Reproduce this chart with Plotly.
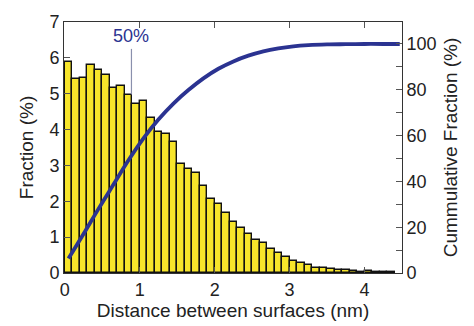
import plotly.graph_objects as go

# Histogram bins (nm) and fractions (%)
bin_centers = [round(0.05 + 0.1 * i, 2) for i in range(44)]
fraction = [5.88, 5.42, 5.45, 5.79, 5.65, 5.52, 5.17, 5.21, 4.96, 4.70,
            4.81, 4.33, 3.94, 3.89, 3.66, 3.04, 2.91, 2.78, 2.44, 2.05,
            1.93, 1.68, 1.41, 1.26, 1.09, 0.92, 0.84, 0.67, 0.56, 0.45,
            0.34, 0.29, 0.22, 0.15, 0.15, 0.10, 0.075, 0.075, 0.05, 0.04,
            0.05, 0.03, 0.02, 0.02]

# Cumulative fraction curve (%)
cum_x = [0.05, 0.25, 0.45, 0.65, 0.85, 1.05, 1.25, 1.45, 1.65, 1.85, 2.05,
         2.25, 2.45, 2.65, 2.85, 3.05, 3.25, 3.5, 3.75, 4.0, 4.25, 4.47]
cum_y = [6.3, 17.0, 28.0, 38.6, 49.2, 58.8, 67.0, 74.0, 79.9, 85.0, 89.2,
         92.4, 94.9, 96.8, 98.1, 99.0, 99.5, 99.8, 99.9, 100, 100, 100]

marker_x = 0.89
marker_label = "50%"

FONT = "Liberation Sans, Arial, sans-serif"
NAVY = "#2b3391"

fig = go.Figure()
fig.add_trace(go.Bar(
    x=bin_centers, y=fraction, width=0.1,
    marker=dict(color="#f7e52b", line=dict(color="#111", width=1.4)),
    yaxis="y", showlegend=False,
))
fig.add_trace(go.Scatter(
    x=cum_x, y=cum_y, mode="lines", line=dict(color=NAVY, width=3.8, shape="spline"),
    yaxis="y2", showlegend=False,
))

fig.add_shape(type="line", x0=marker_x, x1=marker_x, xref="x", yref="y",
              y0=4.98, y1=6.25, line=dict(color="#8a90ad", width=1.2))
fig.add_annotation(x=marker_x, y=6.62, xref="x", yref="y", text=marker_label,
                   showarrow=False, font=dict(family=FONT, size=18, color=NAVY))

axis_common = dict(showline=True, linecolor="#333", linewidth=1, ticks="inside",
                   tickcolor="#555", ticklen=6, showgrid=False, zeroline=False,
                   tickfont=dict(family=FONT, size=18, color="#222"))

TITLE_FONT = dict(family=FONT, size=19, color="#222")

fig.update_layout(
    width=474, height=326,
    margin=dict(l=64, r=72, t=22, b=53),
    plot_bgcolor="white", paper_bgcolor="white",
    bargap=0,
    xaxis=dict(range=[-0.01, 4.5], tickvals=[0, 1, 2, 3, 4], mirror="ticks",
               title=dict(text="Distance between surfaces (nm)", standoff=2,
                          font=TITLE_FONT),
               **axis_common),
    yaxis=dict(range=[0, 7], dtick=1,
               title=dict(text="Fraction (%)", standoff=10, font=TITLE_FONT),
               **axis_common),
    yaxis2=dict(range=[0, 109.6], overlaying="y", side="right",
                tickvals=[0, 20, 40, 60, 80, 100],
                minor=dict(dtick=10, ticks="inside", ticklen=6, tickcolor="#555"),
                title=dict(text="Cummulative Fraction (%)", standoff=8,
                           font=TITLE_FONT),
                **axis_common),
)

fig.write_html("out.html")
